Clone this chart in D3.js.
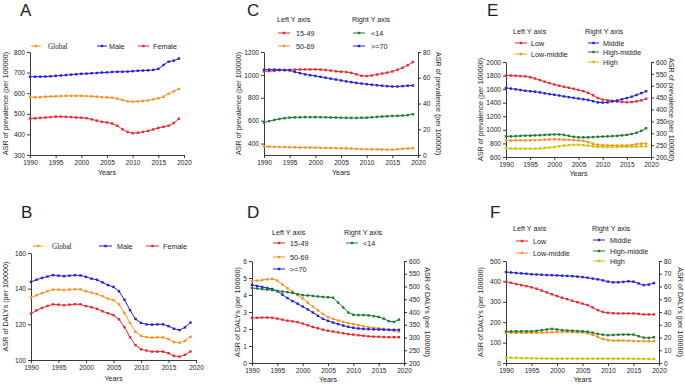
<!DOCTYPE html>
<html><head><meta charset="utf-8">
<script src="https://cdn.jsdelivr.net/npm/d3@7"></script>
<style>
body{margin:0;background:#fff;}
svg text{font-family:"Liberation Sans",Arial,sans-serif;fill:#222;}
</style></head>
<body><svg id="c" width="685" height="384"></svg>
<script>
const years = [1990,1991,1992,1993,1994,1995,1996,1997,1998,1999,2000,2001,2002,2003,2004,2005,2006,2007,2008,2009,2010,2011,2012,2013,2014,2015,2016,2017,2018,2019];
const xTicks = [1990,1995,2000,2005,2010,2015,2020];

// Panel A: ASR of prevalence by sex
const globalA = [580,580,581,583,584,585,586,587,587,587,587,586,585,583,581,580,578,574,567,561,559,560,562,565,570,575,583,597,609,621];
const maleA = [680,680,680,681,682,684,686,688,690,692,694,695,697,698,700,701,703,704,704,705,707,709,710,711,713,718,737,753,758,768];
const femaleA = [477,478,480,482,484,486,486,485,484,482,481,479,473,467,461,458,453,442,425,412,406,408,412,417,424,431,437,442,455,476];
const ticksA = [300,400,500,600,700,800];

// Panel B: ASR of DALYs by sex
const globalB = [135,136.3,137.5,138.5,139.5,139.5,139.2,139.5,139.7,139.6,138.6,137.8,137,135.8,134.4,133.6,131.2,126.3,120.8,115.8,113.6,112.8,112.5,112.7,112.7,111.7,110.1,109.7,110.7,113];
const maleB = [143.8,145,146,146.8,147.6,147.3,147,147.3,147.6,147.4,146.6,145.6,145,143.5,142,141,138.5,133.8,128,123,120.8,120,119.8,120,120,119,117.5,116.8,118.3,121];
const femaleB = [126,127.8,129.2,130.3,131.2,131,130.7,131,131.3,131.2,130.2,129.6,128.7,127.3,126.2,125.1,122.8,118.4,112.8,108.3,106,105.3,104.7,104.7,104.7,103.8,102.3,101.9,102.9,104.8];
const ticksB = [100,120,140,160];

// Panel C: ASR of prevalence by age
const c1549 = [1030,1033,1036,1040,1042,1044,1046,1047,1048,1048,1048,1046,1043,1038,1032,1028,1025,1018,1005,992,990,995,1003,1012,1020,1030,1045,1062,1085,1112];
const c5069 = [375,373,371,370,369,368,367,366,366,365,364,363,362,361,360,359,358,356,354,352,351,350,349,348,347,347,350,354,357,360];
const c14 = [25.2,26.3,27.2,28,28.6,29,29.2,29.3,29.4,29.4,29.4,29.4,29.3,29.2,29.1,28.9,28.9,28.8,28.8,28.9,29,29.3,29.6,29.9,30.1,30.3,30.4,30.6,31,31.7];
const c70 = [66.2,66.3,66.3,66.2,66,65.7,64.6,63.6,62.6,62,61.4,60.7,60,59.3,58.6,57.9,57.2,56.6,56,55.5,55,54.6,54.2,53.8,53.5,53.2,53.2,53.5,53.8,54];
const ticksCL = [400,600,800,1000,1200];
const ticksCR = [0,20,40,60,80];

// Panel D: ASR of DALYs by age
const d1549 = [2.65,2.66,2.67,2.67,2.66,2.61,2.55,2.49,2.45,2.4,2.32,2.22,2.12,2.04,1.96,1.9,1.85,1.8,1.75,1.7,1.67,1.63,1.6,1.57,1.55,1.54,1.53,1.52,1.52,1.52];
const d5069 = [4.82,4.85,4.88,4.92,4.95,4.85,4.62,4.4,4.2,4.0,3.8,3.55,3.33,3.1,2.88,2.7,2.6,2.5,2.42,2.35,2.28,2.22,2.16,2.11,2.07,2.04,2.01,1.96,1.9,1.85];
const d70 = [4.6,4.53,4.47,4.41,4.35,4.22,4.02,3.82,3.64,3.49,3.32,3.15,2.97,2.78,2.6,2.48,2.38,2.29,2.2,2.13,2.07,2.03,2.0,1.99,1.98,1.97,1.96,1.95,1.95,1.95];
const d14 = [494,492,490,488,486,483,480,478,475,470,466,465,463,461,459,458,456,437,418,398,389,388,388,387,384,381,374,364,361,370];
const ticksDL = [0,1,2,3,4,5,6];
const ticksDR = [200,250,300,350,400,450,500,550,600];

// Panel E: ASR of prevalence by SDI
const eLow = [1800,1800,1797,1792,1788,1776,1757,1733,1710,1688,1668,1651,1635,1620,1605,1588,1570,1545,1510,1470,1447,1437,1428,1418,1410,1407,1410,1420,1435,1458];
const eLowMid = [845,845,845,845,845,846,848,851,855,860,862,860,855,852,848,845,838,818,795,780,773,771,770,770,770,771,775,790,797,797];
const eMid = [491,488,485,482,479,477,475,472,468,465,462,459,455,452,449,446,443,440,435,430,429,430,434,438,443,448,454,461,469,477];
const eHighMid = [287,287,288,289,290,290,291,292,293,294,295,295,293,289,285,283,283,283,284,285,286,287,288,289,291,293,297,302,310,321];
const eHigh = [237,236,235,235,235,235,235,236,238,240,242,245,248,250,251,251,250,248,245,243,242,242,242,242,243,243,244,244,245,245];
const ticksEL = [600,800,1000,1200,1400,1600,1800,2000];
const ticksER = [200,250,300,350,400,450,500,550,600];

// Panel F: ASR of DALYs by SDI
const fLow = [398,393,387,382,377,371,364,355,346,337,328,320,313,305,298,291,284,272,259,250,246,244,243,243,243,243,241,238,238,238];
const fLowMid = [148,148,148,148,148,148,148,149,150,151,152,152,152,151,151,150,145,138,128,118,112,110,110,110,109,108,107,107,107,107];
const fMid = [71.3,71,70.6,70.3,70,69.6,69.4,69.2,69,68.9,68.7,68.5,68.3,68.1,67.8,67.4,66.9,66.2,65.6,64.8,63.8,63.3,63.3,63.6,64.1,63.8,62.4,61.1,61.5,62.7];
const fHighMid = [24.7,24.8,24.9,24.9,24.9,24.9,25.2,25.8,26.3,26.8,26.3,25.8,25.5,25.3,25.1,24.9,24.5,23.8,22.8,22.2,21.8,22,22.2,22.3,22.3,22.3,21,19.9,19.7,20.2];
const fHigh = [4.2,4.1,4.0,3.9,3.8,3.7,3.6,3.5,3.5,3.4,3.4,3.4,3.4,3.4,3.4,3.4,3.4,3.4,3.4,3.4,3.4,3.4,3.4,3.4,3.4,3.3,3.3,3.2,3.2,3.1];
const ticksFL = [0,100,200,300,400,500];
const ticksFR = [0,10,20,30,40,50,60,70,80];

const RED="#ee272c", ORANGE="#f7931e", BLUE="#2121dc", GREEN="#1f7a32", YEL="#c9c400";
const TFS = 6.6, FS = 7.2;
const svg = d3.select("#c");

function panel(o){
  const g = svg.append("g");
  const x = d3.scaleLinear().domain([1990,2020]).range([o.x0,o.x1]);
  const yl = d3.scaleLinear().domain(o.ylDom).range([o.y1,o.y0]);
  const yr = o.yrDom ? d3.scaleLinear().domain(o.yrDom).range([o.y1,o.y0]) : null;
  const styleAxis = a => { a.selectAll("text").style("font-size",TFS+"px").attr("fill","#222");
    a.selectAll("line,path").attr("stroke","#222").attr("stroke-width",0.9); };
  const fmt = d3.format("d");
  g.append("g").attr("transform",`translate(0,${o.y1})`)
    .call(d3.axisBottom(x).tickValues(xTicks).tickFormat(fmt).tickSize(3).tickSizeOuter(0).tickPadding(2)).call(styleAxis);
  g.append("g").attr("transform",`translate(${o.x0},0)`)
    .call(d3.axisLeft(yl).tickValues(o.ylTicks).tickFormat(fmt).tickSize(3).tickSizeOuter(0).tickPadding(2)).call(styleAxis);
  if(yr){
    g.append("g").attr("transform",`translate(${o.x1},0)`)
      .call(d3.axisRight(yr).tickValues(o.yrTicks).tickFormat(fmt).tickSize(3).tickSizeOuter(0).tickPadding(2)).call(styleAxis);
  }
  o.series.forEach(s=>{
    const ys = s.right ? yr : yl;
    const line = d3.line().x((d,i)=>x(years[i])).y(d=>ys(d));
    g.append("path").attr("d",line(s.data)).attr("fill","none").attr("stroke",s.color).attr("stroke-width",1);
    g.selectAll(null).data(s.data).enter().append("rect")
      .attr("x",(d,i)=>x(years[i])-1.2).attr("y",d=>ys(d)-1.2).attr("width",2.4).attr("height",2.4).attr("fill",s.color);
  });
  g.append("text").attr("x",o.lx).attr("y",o.ly).text(o.letter).style("font-size","17px");
  g.append("text").attr("x",(o.x0+o.x1)/2).attr("y",o.yearsY).attr("text-anchor","middle").text("Years").style("font-size",FS+"px");
  g.append("text").attr("transform",`translate(${o.ytx},${(o.y0+o.y1)/2}) rotate(-90)`).attr("text-anchor","middle").attr("dy","0.35em").text(o.ytitle).style("font-size",FS+"px");
  if(yr){
    g.append("text").attr("transform",`translate(${o.yrtx},${(o.y0+o.y1)/2}) rotate(90)`).attr("text-anchor","middle").attr("dy","0.35em").text(o.ytitle).style("font-size",FS+"px");
  }
  (o.legendHeads||[]).forEach(h=>{
    g.append("text").attr("x",h.x).attr("y",h.y).attr("dy","0.35em").text(h.t).style("font-size",FS+"px");
  });
  o.legend.forEach(l=>{
    g.append("line").attr("x1",l.x).attr("x2",l.x+l.w).attr("y1",l.y).attr("y2",l.y).attr("stroke",l.color).attr("stroke-width",1);
    g.append("rect").attr("x",l.x+l.w/2-1.2).attr("y",l.y-1.2).attr("width",2.4).attr("height",2.4).attr("fill",l.color);
    g.append("text").attr("x",l.tx).attr("y",l.y).attr("dy","0.35em").text(l.t)
      .style("font-size",FS+"px").style("font-family",l.serif?"'Liberation Serif',serif":null);
  });
}

panel({letter:"A",lx:20,ly:15.5,x0:30,x1:184,y0:52,y1:155,ylDom:[300,800],ylTicks:ticksA,yearsY:175,ytx:5,
  ytitle:"ASR of prevalence (per 100000)",
  series:[{data:globalA,color:ORANGE},{data:maleA,color:BLUE},{data:femaleA,color:RED}],
  legend:[{x:31,w:10,y:46,tx:48,t:"Global",color:ORANGE,serif:true},{x:97,w:10,y:46,tx:109,t:"Male",color:BLUE},{x:138,w:11,y:46,tx:153,t:"Female",color:RED}]});

panel({letter:"B",lx:21,ly:218,x0:31,x1:196,y0:253,y1:360,ylDom:[100,160],ylTicks:ticksB,yearsY:381,ytx:5,
  ytitle:"ASR of DALYs (per 100000)",
  series:[{data:globalB,color:ORANGE},{data:maleB,color:BLUE},{data:femaleB,color:RED}],
  legend:[{x:33,w:10,y:246,tx:52,t:"Global",color:ORANGE,serif:true},{x:99,w:13,y:246,tx:117,t:"Male",color:BLUE},{x:146,w:13,y:246,tx:163,t:"Female",color:RED}]});

panel({letter:"C",lx:247,ly:15.5,x0:264,x1:418,y0:52,y1:155,ylDom:[300,1200],ylTicks:ticksCL,yrDom:[0,80],yrTicks:ticksCR,yearsY:175,ytx:238,yrtx:439,
  ytitle:"ASR of prevalence (per 100000)",
  series:[{data:c1549,color:RED},{data:c5069,color:ORANGE},{data:c14,color:GREEN,right:true},{data:c70,color:BLUE,right:true}],
  legendHeads:[{x:277,y:19,t:"Left Y axis"},{x:352,y:19,t:"Right Y axis"}],
  legend:[{x:278,w:12,y:33,tx:296,t:"15-49",color:RED},{x:278,w:12,y:46,tx:296,t:"50-69",color:ORANGE},
          {x:353,w:12,y:33,tx:371,t:"<14",color:GREEN},{x:353,w:12,y:46,tx:371,t:">=70",color:BLUE}]});

panel({letter:"D",lx:247,ly:218,x0:252,x1:404,y0:261,y1:363,ylDom:[0,6],ylTicks:ticksDL,yrDom:[200,600],yrTicks:ticksDR,yearsY:382,ytx:237,yrtx:428,
  ytitle:"ASR of DALYs (per 100000)",
  series:[{data:d1549,color:RED},{data:d5069,color:ORANGE},{data:d70,color:BLUE},{data:d14,color:GREEN,right:true}],
  legendHeads:[{x:272,y:232,t:"Left Y axis"},{x:344,y:232,t:"Right Y axis"}],
  legend:[{x:273,w:12,y:243,tx:290,t:"15-49",color:RED},{x:273,w:12,y:257,tx:290,t:"50-69",color:ORANGE},{x:273,w:12,y:269,tx:290,t:">=70",color:BLUE},
          {x:346,w:12,y:243,tx:363,t:"<14",color:GREEN}]});

panel({letter:"E",lx:487,ly:15.5,x0:506,x1:651,y0:62,y1:157,ylDom:[600,2000],ylTicks:ticksEL,yrDom:[200,600],yrTicks:ticksER,yearsY:176,ytx:480,yrtx:672,
  ytitle:"ASR of prevalence (per 100000)",
  series:[{data:eLow,color:RED},{data:eLowMid,color:ORANGE},{data:eMid,color:BLUE,right:true},{data:eHighMid,color:GREEN,right:true},{data:eHigh,color:YEL,right:true}],
  legendHeads:[{x:513,y:31,t:"Left Y axis"},{x:585,y:31,t:"Right Y axis"}],
  legend:[{x:515,w:12,y:43,tx:531,t:"Low",color:RED},{x:515,w:12,y:54,tx:531,t:"Low-middle",color:ORANGE},
          {x:588,w:11,y:43,tx:603,t:"Middle",color:BLUE},{x:588,w:11,y:52,tx:603,t:"High-middle",color:GREEN},{x:588,w:11,y:62,tx:603,t:"High",color:YEL}]});

panel({letter:"F",lx:490,ly:218,x0:506,x1:659,y0:261,y1:363,ylDom:[0,500],ylTicks:ticksFL,yrDom:[0,80],yrTicks:ticksFR,yearsY:382,ytx:480,yrtx:681,
  ytitle:"ASR of DALYs (per 100000)",
  series:[{data:fLow,color:RED},{data:fLowMid,color:ORANGE},{data:fMid,color:BLUE,right:true},{data:fHighMid,color:GREEN,right:true},{data:fHigh,color:YEL,right:true}],
  legendHeads:[{x:513,y:228,t:"Left Y axis"},{x:592,y:228,t:"Right Y axis"}],
  legend:[{x:516,w:12,y:241,tx:533,t:"Low",color:RED},{x:516,w:12,y:253,tx:533,t:"Low-middle",color:ORANGE},
          {x:593,w:12,y:240,tx:610,t:"Middle",color:BLUE},{x:593,w:12,y:251,tx:610,t:"High-middle",color:GREEN},{x:593,w:12,y:261,tx:610,t:"High",color:YEL}]});
</script></body></html>
